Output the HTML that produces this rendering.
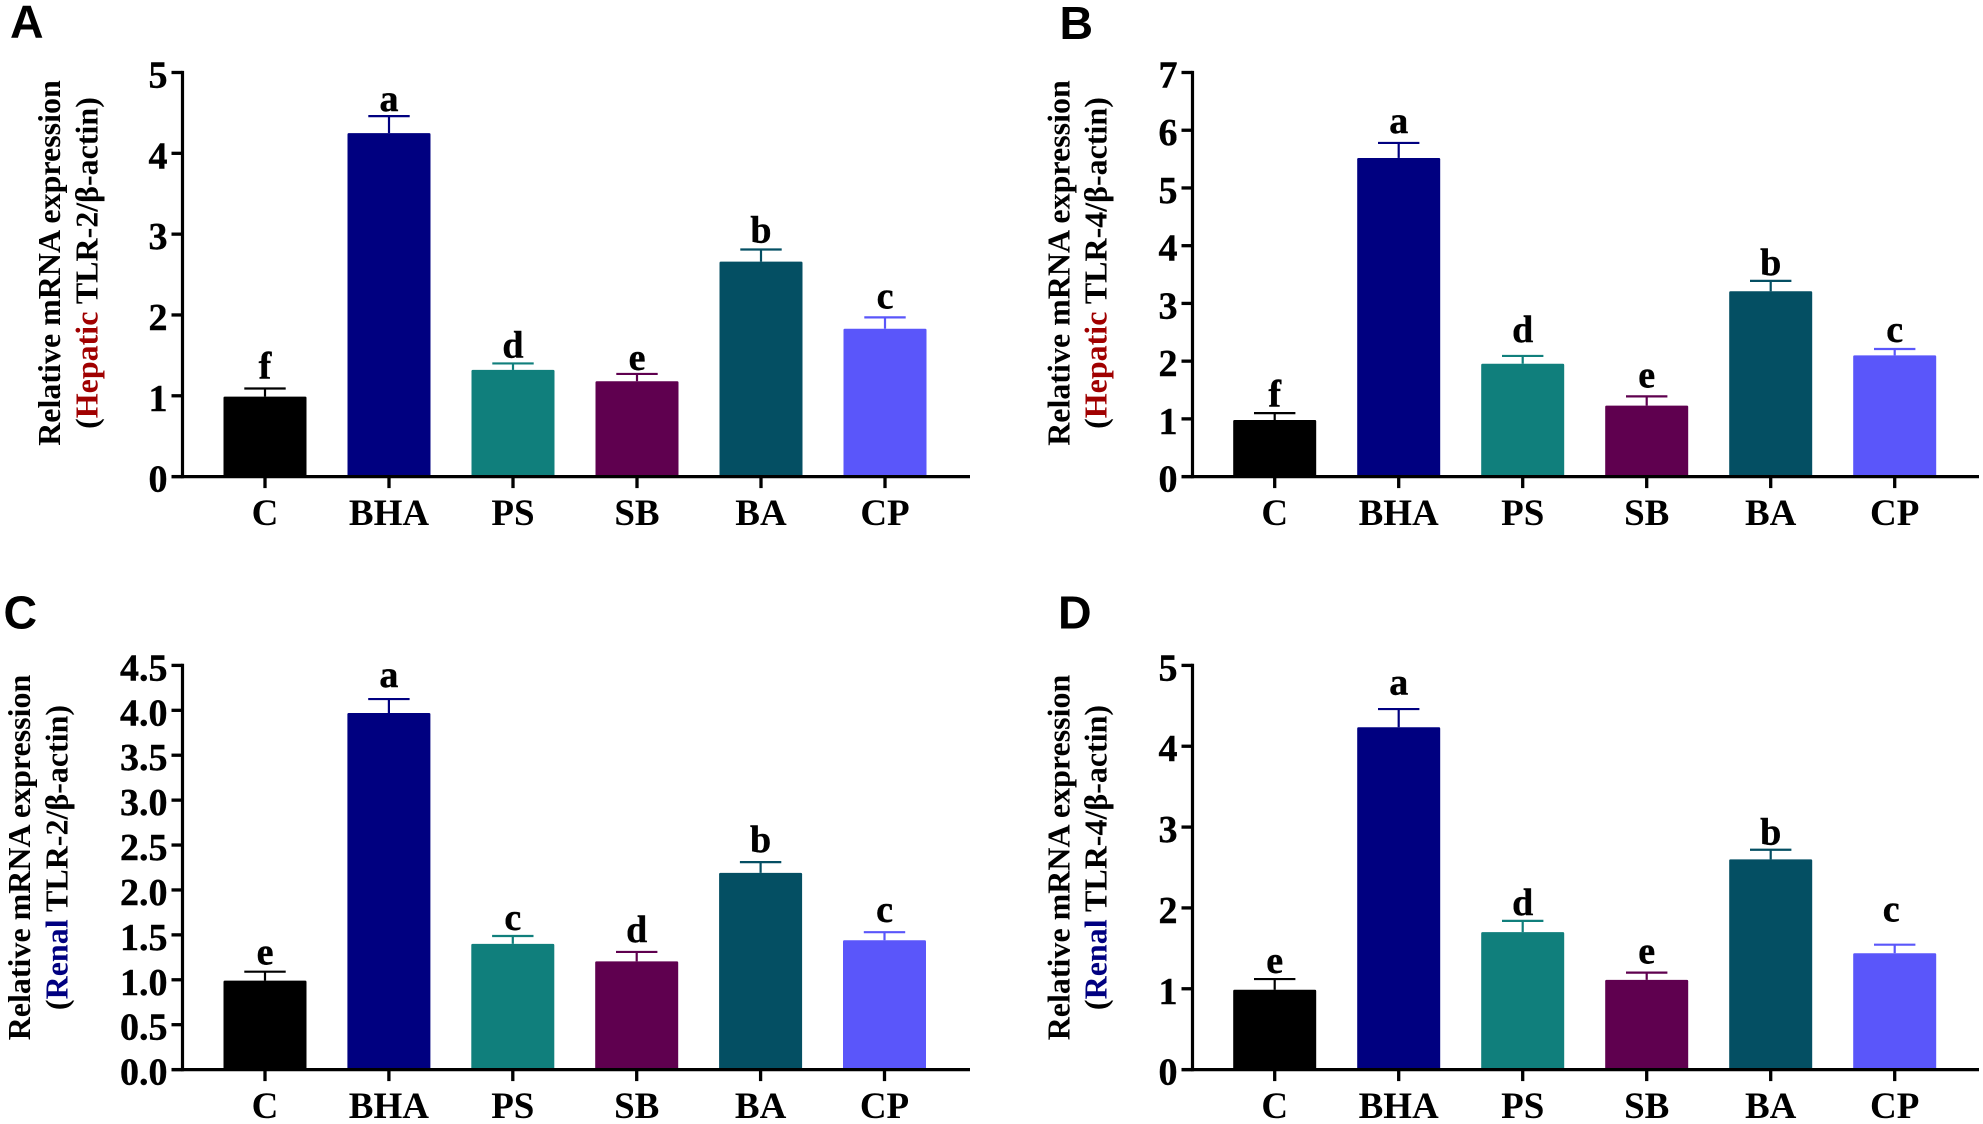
<!DOCTYPE html>
<html lang="en">
<head>
<meta charset="utf-8">
<title>Relative mRNA expression of TLR-2 and TLR-4</title>
<style>
  html, body { margin: 0; padding: 0; background: #fff; }
  body { width: 1983px; height: 1124px; overflow: hidden; }
  svg { display: block; filter: blur(0.35px); }
  text { font-family: "Liberation Serif", serif; font-weight: bold; fill: #000; }
  .panel-letter { font-family: "Liberation Sans", sans-serif; font-size: 46.5px; }
  .title { font-size: 32px; text-anchor: middle; }
  .heavy { stroke: #000; stroke-width: 0.4px; }
</style>
</head>
<body>
<svg id="figure" xmlns="http://www.w3.org/2000/svg" width="1983" height="1124" viewBox="0 0 1983 1124">
  <rect x="0" y="0" width="1983" height="1124" fill="#fff"/>

  <text class="panel-letter" x="10" y="37.5">A</text>
  <text class="panel-letter" x="1059.5" y="39">B</text>
  <text class="panel-letter" x="3.5" y="628.5">C</text>
  <text class="panel-letter" x="1058" y="628.5">D</text>

  <g>
    <text class="title" transform="translate(60 263) rotate(-90)">Relative mRNA expression</text>
    <text class="title" transform="translate(97.7 263) rotate(-90)">(<tspan fill="#a00000">Hepatic</tspan> TLR-2/β-actin)</text>
  </g>
  <g>
    <text class="title" transform="translate(1069.3 263) rotate(-90)">Relative mRNA expression</text>
    <text class="title" transform="translate(1106.7 263) rotate(-90)">(<tspan fill="#a00000">Hepatic</tspan> TLR-4/β-actin)</text>
  </g>
  <g>
    <text class="title" transform="translate(30 857.5) rotate(-90)">Relative mRNA expression</text>
    <text class="title" transform="translate(67.7 857.5) rotate(-90)">(<tspan fill="#000080">Renal</tspan> TLR-2/β-actin)</text>
  </g>
  <g>
    <text class="title" transform="translate(1069.3 857.5) rotate(-90)">Relative mRNA expression</text>
    <text class="title" transform="translate(1106.7 857.5) rotate(-90)">(<tspan fill="#000080">Renal</tspan> TLR-4/β-actin)</text>
  </g>
</svg>

<script>
// Shared categories
const categories = ['C', 'BHA', 'PS', 'SB', 'BA', 'CP'];

// Panel A: hepatic TLR-2
const hepaticTlr2Means = [0.99, 4.25, 1.32, 1.18, 2.66, 1.83];
const hepaticTlr2Errors = [0.10, 0.21, 0.08, 0.09, 0.15, 0.14];
const hepaticTlr2Letters = ['f', 'a', 'd', 'e', 'b', 'c'];
const hepaticTlr2Ticks = ['0', '1', '2', '3', '4', '5'];

// Panel B: hepatic TLR-4
const hepaticTlr4Means = [0.98, 5.52, 1.955, 1.23, 3.21, 2.10];
const hepaticTlr4Errors = [0.12, 0.26, 0.135, 0.16, 0.18, 0.11];
const hepaticTlr4Letters = ['f', 'a', 'd', 'e', 'b', 'c'];
const hepaticTlr4Ticks = ['0', '1', '2', '3', '4', '5', '6', '7'];

// Panel C: renal TLR-2
const renalTlr2Means = [0.99, 3.97, 1.40, 1.205, 2.19, 1.44];
const renalTlr2Errors = [0.10, 0.155, 0.087, 0.105, 0.12, 0.09];
const renalTlr2Letters = ['e', 'a', 'c', 'd', 'b', 'c'];
const renalTlr2Ticks = ['0.0', '0.5', '1.0', '1.5', '2.0', '2.5', '3.0', '3.5', '4.0', '4.5'];

// Panel D: renal TLR-4
const renalTlr4Means = [0.987, 4.235, 1.70, 1.11, 2.60, 1.44];
const renalTlr4Errors = [0.133, 0.225, 0.14, 0.09, 0.12, 0.105];
const renalTlr4Letters = ['e', 'a', 'd', 'e', 'b', 'c'];
const renalTlr4Ticks = ['0', '1', '2', '3', '4', '5'];

const barColors = ['#000000', '#000080', '#107f7c', '#5f004f', '#044f63', '#5a56fa'];

const SVG_NS = 'http://www.w3.org/2000/svg';
const figure = document.getElementById('figure');

function shape(parent, tag, attrs, content) {
  const node = document.createElementNS(SVG_NS, tag);
  for (const key in attrs) node.setAttribute(key, attrs[key]);
  if (content !== undefined) node.textContent = content;
  parent.appendChild(node);
  return node;
}

function drawPanel(p) {
  const y = function (value) {
    return p.bottom - (value / p.max) * (p.bottom - p.top);
  };
  const x = function (index) {
    return p.first + index * p.step;
  };

  const group = shape(figure, 'g', {});
  
  

  // Bars, error bars and significance letters
  p.means.forEach(function (mean, i) {
    const color = barColors[i];
    const top = y(mean);
    const capY = y(mean + p.errors[i]);
    const cx = x(i);

    const bar = shape(group, 'rect', { x: cx - 41.5, y: top, width: 83, height: p.bottom - top, rx: 1.2, fill: color });
    
    

    const stem = shape(group, 'line', { x1: cx, x2: cx, y1: top, y2: capY, stroke: color, 'stroke-width': 2.2 });
    
    

    const cap = shape(group, 'line', { x1: cx - 20.7, x2: cx + 20.7, y1: capY, y2: capY, stroke: color, 'stroke-width': 2.2 });
    
    

    const letter = shape(group, 'text', {
      x: cx + (p.letterShift[i] || 0),
      y: capY - p.letterGap[i],
      'text-anchor': 'middle',
      'font-size': 38,
      class: 'heavy'
    }, p.letters[i]);
    
    

    const tick = shape(group, 'line', { x1: cx, x2: cx, y1: p.bottom, y2: p.bottom + 11.5, stroke: '#000', 'stroke-width': 3.3 });
    
    

    const label = shape(group, 'text', {
      x: cx,
      y: p.bottom + 48.6,
      'text-anchor': 'middle',
      'font-size': 37
    }, categories[i]);
    
    
  });

  // Y axis ticks and labels
  p.ticks.forEach(function (tickText) {
    const ty = y(Number(tickText));
    const tick = shape(group, 'line', { x1: p.axisX - 11, x2: p.axisX, y1: ty, y2: ty, stroke: '#000', 'stroke-width': 3.3 });
    
    

    const label = shape(group, 'text', {
      x: p.axisX - 15,
      y: ty + 15,
      'text-anchor': 'end',
      'font-size': 38,
      class: 'heavy'
    }, tickText);
    
    
  });

  const yAxis = shape(group, 'line', { x1: p.axisX, x2: p.axisX, y1: p.top - 1.6, y2: p.bottom + 1.6, stroke: '#000', 'stroke-width': 3.2 });
  
  

  const xAxis = shape(group, 'line', { x1: p.axisX - 11, x2: p.axisEnd, y1: p.bottom, y2: p.bottom, stroke: '#000', 'stroke-width': 3.3 });
  
  
}

drawPanel({
  id: 'a', means: hepaticTlr2Means, errors: hepaticTlr2Errors, letters: hepaticTlr2Letters, ticks: hepaticTlr2Ticks,
  max: 5, top: 72.5, bottom: 476.6, axisX: 182.5, axisEnd: 970, first: 265, step: 124,
  letterGap: [10, 5, 6, 4, 7, 9], letterShift: []
});
drawPanel({
  id: 'b', means: hepaticTlr4Means, errors: hepaticTlr4Errors, letters: hepaticTlr4Letters, ticks: hepaticTlr4Ticks,
  max: 7, top: 72.5, bottom: 476.6, axisX: 1192.5, axisEnd: 1979, first: 1274.7, step: 124,
  letterGap: [6.5, 10, 14, 9, 6, 7], letterShift: []
});
drawPanel({
  id: 'c', means: renalTlr2Means, errors: renalTlr2Errors, letters: renalTlr2Letters, ticks: renalTlr2Ticks,
  max: 4.5, top: 665.4, bottom: 1069.6, axisX: 182.5, axisEnd: 970, first: 265, step: 123.9,
  letterGap: [7, 12, 6, 10, 10, 10], letterShift: []
});
drawPanel({
  id: 'd', means: renalTlr4Means, errors: renalTlr4Errors, letters: renalTlr4Letters, ticks: renalTlr4Ticks,
  max: 5, top: 665.4, bottom: 1069.6, axisX: 1192.5, axisEnd: 1979, first: 1274.7, step: 124,
  letterGap: [6, 14.6, 6, 9, 5, 23], letterShift: [0, 0, 0, 0, 0, -3.5]
});
</script>
</body>
</html>
